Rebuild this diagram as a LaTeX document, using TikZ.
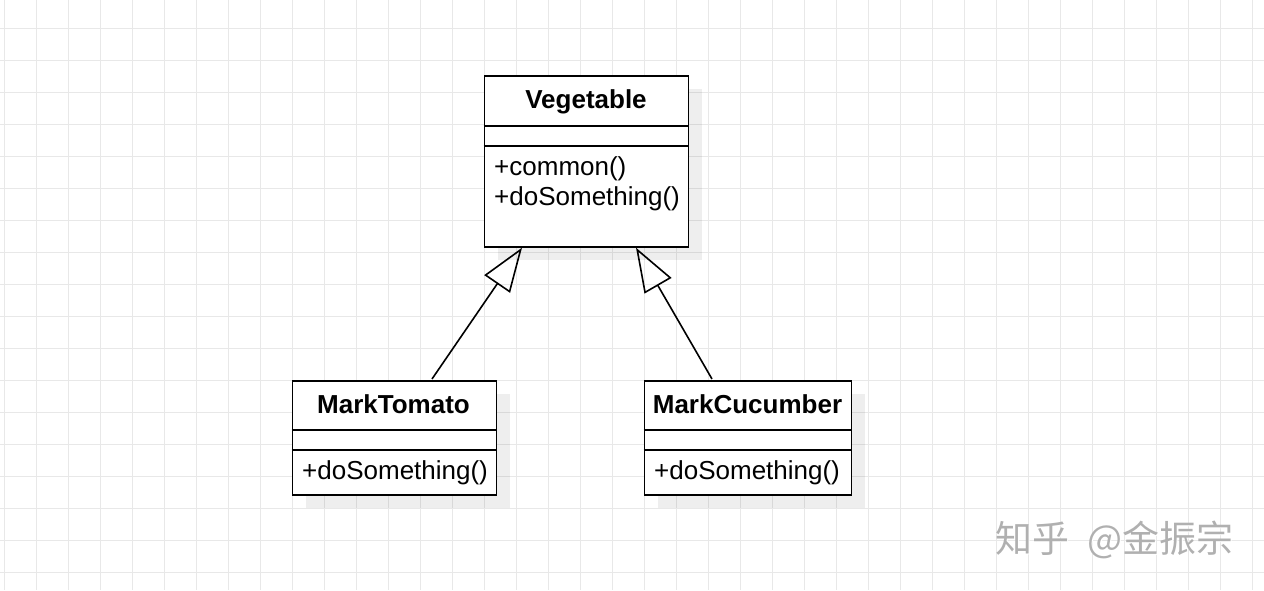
\documentclass[tikz,border=0pt]{standalone}
\usepackage{fontspec}
\setmainfont{Liberation Sans}
\newfontfamily\cjk{Noto Sans CJK SC}
\usetikzlibrary{arrows.meta,calc}
\definecolor{gridc}{HTML}{E8E8E8}
\definecolor{wmark}{HTML}{B0B0B0}
\tikzset{
  gridline/.style={draw=gridc, line width=0.9pt},
  classbox/.style={draw=black, fill=white, line width=1.7pt, inner sep=0pt, anchor=north west},
  shadowbox/.style={fill=black, fill opacity=0.065, draw=none},
  sepline/.style={draw=black, line width=1.7pt},
  title/.style={font=\fontsize{26}{30}\selectfont\bfseries, anchor=base, inner sep=0pt},
  member/.style={font=\fontsize{26}{30}\selectfont, anchor=base west, inner sep=0pt},
  inherit/.style={draw=black, line width=1.6pt, -{Triangle[open, length=44pt, width=31pt, line width=1.6pt]}},
  wmfont/.style={font=\cjk\fontsize{37}{40}\selectfont, inner sep=0pt, anchor=base west},
}
\begin{document}
\begin{tikzpicture}[x=1pt, y=-1pt]
\useasboundingbox (0,0) rectangle (1264,590);
\fill[white] (0,0) rectangle (1264,590);
% grid
\foreach \x in {4,36,...,1264} \draw[gridline] (\x,0) -- (\x,590);
\foreach \y in {28,60,...,590} \draw[gridline] (0,\y) -- (1264,\y);
% shadows
\fill[shadowbox] (498,89) rectangle (702,260);
\fill[shadowbox] (306,394) rectangle (510,508);
\fill[shadowbox] (658,394) rectangle (865,508);
% Vegetable
\node[classbox, minimum width=204pt, minimum height=171pt] (veg) at (483.5,75) {};
\draw[sepline] (veg.west |- 0,126) -- (veg.east |- 0,126);
\draw[sepline] (veg.west |- 0,146) -- (veg.east |- 0,146);
\node[title] (vegt) at (586,108.5) {Vegetable};
\node[member] (vegm1) at (494,175) {+common()};
\node[member] (vegm2) at (494,205) {+doSomething()};
% MarkTomato
\node[classbox, minimum width=204pt, minimum height=114pt] (tom) at (291.5,380) {};
\draw[sepline] (tom.west |- 0,430) -- (tom.east |- 0,430);
\draw[sepline] (tom.west |- 0,450) -- (tom.east |- 0,450);
\node[title] (tomt) at (393.5,413) {MarkTomato};
\node[member] (tomm) at (302,479) {+doSomething()};
% MarkCucumber
\node[classbox, minimum width=207pt, minimum height=114pt] (cuc) at (643.5,380) {};
\draw[sepline] (cuc.west |- 0,430) -- (cuc.east |- 0,430);
\draw[sepline] (cuc.west |- 0,450) -- (cuc.east |- 0,450);
\node[title] (cuct) at (747.5,413) {MarkCucumber};
\node[member] (cucm) at (654,479) {+doSomething()};
% connectors
\coordinate (t1) at ($(tom.north west)+(140.5,-1)$);
\coordinate (v1) at ($(veg.south west)+(38.5,0)$);
\coordinate (c1) at ($(cuc.north west)+(68.5,-1)$);
\coordinate (v2) at ($(veg.south west)+(152.5,0)$);
\draw[inherit] (t1) -- (v1);
\draw[inherit] (c1) -- (v2);
% watermark
\node[wmfont, text=white] (wm0) at (996.5,553.5) {知乎\hspace{10pt} @金振宗};
\node[wmfont, text=wmark] (wm) at (995,552) {知乎\hspace{10pt} @金振宗};
\end{tikzpicture}
\end{document}
